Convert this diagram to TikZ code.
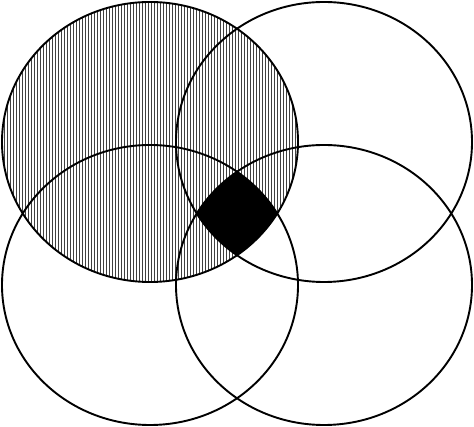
\documentclass[tikz,border=0pt]{standalone}
\usetikzlibrary{patterns}
\pgfdeclarepatternformonly{thickvlines}{\pgfqpoint{-1pt}{-1pt}}{\pgfqpoint{4pt}{4pt}}{\pgfqpoint{3pt}{3pt}}{%
  \pgfsetlinewidth{1.1pt}%
  \pgfpathmoveto{\pgfqpoint{1.5pt}{-0.5pt}}%
  \pgfpathlineto{\pgfqpoint{1.5pt}{3.5pt}}%
  \pgfusepath{stroke}}
\begin{document}
\begin{tikzpicture}[x=1pt,y=1pt,
  ring/.style={draw=black,line width=1.9pt},
  hatch/.style={pattern=thickvlines,pattern color=black!75}]
\useasboundingbox (0,0) rectangle (474,427);
\fill[white] (0,0) rectangle (474,427);
% hatched top-left
\fill[hatch] (150,285) ellipse [x radius=148,y radius=140];
% black intersection of all four
\begin{scope}
  \clip (150,285) ellipse [x radius=148,y radius=140];
  \clip (324,285) ellipse [x radius=148,y radius=140];
  \clip (150,142) ellipse [x radius=148,y radius=140];
  \fill[black] (324,142) ellipse [x radius=148,y radius=140];
\end{scope}
\draw[ring] (150,285) ellipse [x radius=148,y radius=140];
\draw[ring] (324,285) ellipse [x radius=148,y radius=140];
\draw[ring] (150,142) ellipse [x radius=148,y radius=140];
\draw[ring] (324,142) ellipse [x radius=148,y radius=140];
\end{tikzpicture}
\end{document}
